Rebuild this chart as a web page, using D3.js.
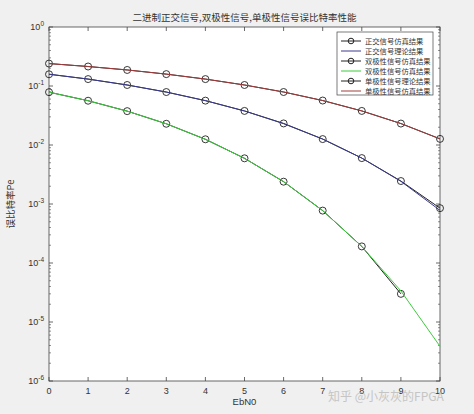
<!DOCTYPE html><html><head><meta charset="utf-8"><script src="https://cdn.jsdelivr.net/npm/d3@7"></script>
<style>body{margin:0;background:#f0f0f0}</style></head><body><svg id="c" width="474" height="414"></svg>
<script>
const ebn0=[0,1,2,3,4,5,6,7,8,9,10];
const orthSim=[0.158,0.131,0.104,0.079,0.0565,0.0378,0.0232,0.0126,0.0060,0.00245,0.00085];
const orthTheory=[0.1587,0.131,0.104,0.0789,0.0565,0.0377,0.0230,0.0126,0.0060,0.00242,0.00078];
const biSim=[0.0786,0.0563,0.0375,0.0229,0.0125,0.00595,0.00239,0.000773,0.000191,3.0e-5];
const biTheory=[0.0786,0.0563,0.0375,0.0229,0.0125,0.00595,0.00239,0.000773,0.000191,3.36e-5,3.87e-6];
const uniSim=[0.240,0.214,0.187,0.159,0.131,0.104,0.0791,0.0567,0.0378,0.0231,0.0127];
const uniTheory=[0.240,0.214,0.187,0.159,0.131,0.104,0.0791,0.0567,0.0378,0.0231,0.0127];
const legendLabels=["正交信号仿真结果","正交信号理论结果","双极性信号仿真结果","双极性信号仿真结果","单极性信号理论结果","单极性信号仿真结果"];
const yTicks=[1,1e-1,1e-2,1e-3,1e-4,1e-5,1e-6];
const svg=d3.select("#c");
const L=49,R=440,T=27,B=381;
const x=d3.scaleLinear().domain([0,10]).range([L,R]);
const y=d3.scaleLog().domain([1e-6,1]).range([B,T]);
const font="'Noto Sans CJK SC',sans-serif";
svg.append("rect").attr("x",L).attr("y",T).attr("width",R-L).attr("height",B-T).attr("fill","#fff");
const g=svg.append("g").attr("font-family","Liberation Sans,Arial").attr("font-size",9).attr("fill","#333");
const minor=[];yTicks.slice(1).forEach(d=>{for(let k=2;k<10;k++)minor.push(d*k);});
ebn0.forEach(v=>{[[B,-4],[T,4]].forEach(([yy,s])=>g.append("line").attr("x1",x(v)).attr("x2",x(v)).attr("y1",yy).attr("y2",yy+s).attr("stroke","#444").attr("stroke-width",0.8));
 g.append("text").attr("x",x(v)).attr("y",B+13).attr("text-anchor","middle").text(v);});
yTicks.forEach((v,i)=>{[[L,4],[R,-4]].forEach(([xx,s])=>g.append("line").attr("x1",xx).attr("x2",xx+s).attr("y1",y(v)).attr("y2",y(v)).attr("stroke","#444").attr("stroke-width",0.8));
 const t=g.append("text").attr("x",L-5).attr("y",y(v)+3).attr("text-anchor","end");t.append("tspan").text("10");t.append("tspan").attr("dy",-4).attr("font-size",6.5).text(i===0?"0":String(-i));});
minor.forEach(v=>{[[L,2],[R,-2]].forEach(([xx,s])=>g.append("line").attr("x1",xx).attr("x2",xx+s).attr("y1",y(v)).attr("y2",y(v)).attr("stroke","#444").attr("stroke-width",0.6));});
svg.append("rect").attr("x",L).attr("y",T).attr("width",R-L).attr("height",B-T).attr("fill","none").attr("stroke","#444").attr("stroke-width",0.8);
const line=d3.line().x((d,i)=>x(ebn0[i])).y(d=>y(d));
const plotG=svg.append("g");
function ser(data,color,mark){plotG.append("path").attr("d",line(data)).attr("fill","none").attr("stroke",color).attr("stroke-width",1);
 if(mark)data.forEach((d,i)=>plotG.append("circle").attr("cx",x(ebn0[i])).attr("cy",y(d)).attr("r",3.5).attr("fill","none").attr("stroke","#222").attr("stroke-width",0.9));}
ser(orthSim,"#222",true);ser(orthTheory,"#3b3b8f",false);
ser(biSim,"#222",true);ser(biTheory,"#3ccc3c",false);
ser(uniSim,"#222",true);ser(uniTheory,"#a33c3c",false);
const cols=["#222","#3b3b8f","#222","#3ccc3c","#222","#a33c3c"],mk=[1,0,1,0,1,0];
const lg=svg.append("g");
lg.append("rect").attr("x",337).attr("y",32).attr("width",96).attr("height",63).attr("fill","#fff").attr("stroke","#444").attr("stroke-width",0.7);
legendLabels.forEach((s,i)=>{const yy=41+i*10;
 lg.append("line").attr("x1",341).attr("x2",361).attr("y1",yy).attr("y2",yy).attr("stroke",cols[i]);
 if(mk[i])lg.append("circle").attr("cx",351).attr("cy",yy).attr("r",2.8).attr("fill","none").attr("stroke","#222");
 lg.append("text").attr("x",365).attr("y",yy+3).attr("font-family",font).attr("font-size",7.3).attr("fill","#333").text(s);});
svg.append("text").attr("x",(L+R)/2).attr("y",21).attr("text-anchor","middle").attr("font-family",font).attr("font-size",9.5).attr("fill","#333").text("二进制正交信号,双极性信号,单极性信号误比特率性能");
svg.append("text").attr("transform",`translate(14,${(T+B)/2}) rotate(-90)`).attr("text-anchor","middle").attr("font-family",font).attr("font-size",9.5).attr("fill","#333").text("误比特率Pe");
svg.append("text").attr("x",(L+R)/2).attr("y",405).attr("text-anchor","middle").attr("font-family","Liberation Sans,Arial").attr("font-size",9.5).attr("fill","#333").text("EbN0");
svg.append("text").attr("x",328).attr("y",401).attr("font-family",font).attr("font-size",12).attr("fill","#bbb").attr("opacity",0.8).text("知乎 @小灰灰的FPGA");
</script></body></html>
